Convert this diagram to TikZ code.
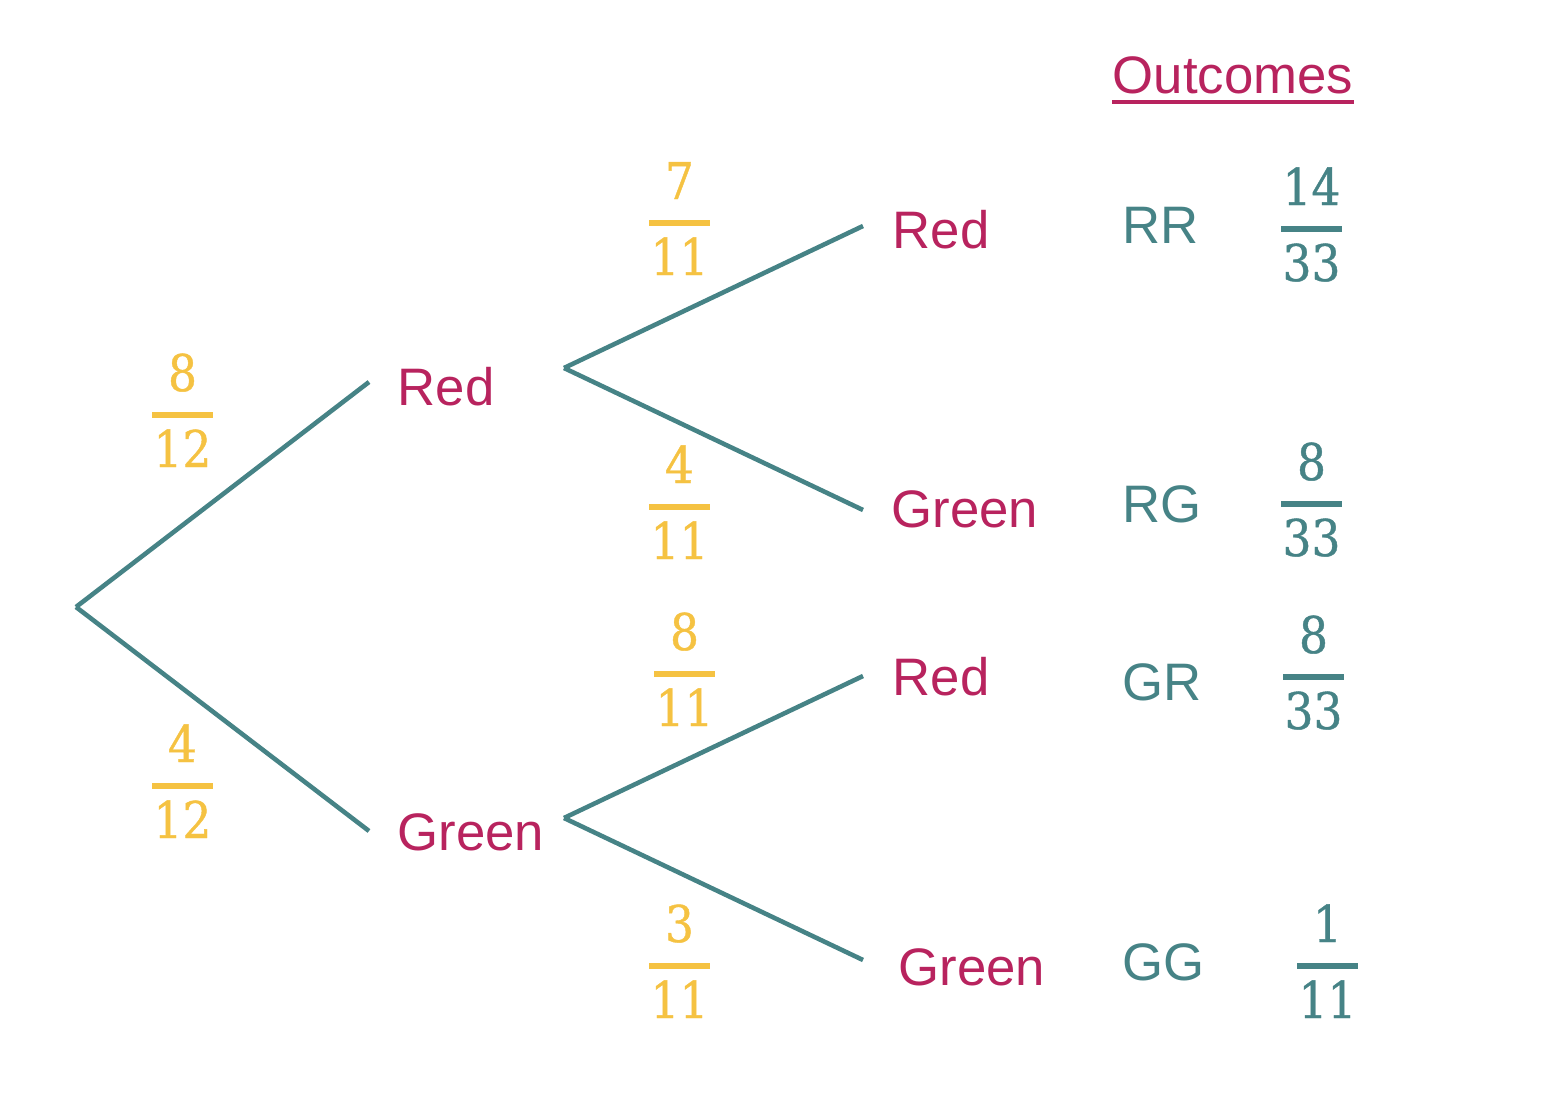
\documentclass[tikz,border=0pt]{standalone}
\usepackage{fontspec}
\setmainfont{Liberation Sans}
\newfontfamily\digitfont[FakeStretch=0.9,FakeBold=0.8]{DejaVu Serif}
\definecolor{teal1}{HTML}{468386}
\definecolor{mag1}{HTML}{B8235E}
\definecolor{yel1}{HTML}{F5C242}
\newcommand{\fracnode}[6]{%
  \node[fracdigit, text=#6, anchor=base] (#1n) at (#2,#3-24) {#4};
  \node[fracdigit, text=#6, anchor=base] (#1d) at (#2,#3+52) {#5};
  \draw[#6, line width=1.45pt] (#2-30.5,#3) -- (#2+30.5,#3);
}
\begin{document}
\begin{tikzpicture}[x=0.01cm,y=-0.01cm,
  lbl/.style={inner sep=0pt, anchor=base west, font=\fontsize{15pt}{18pt}\selectfont},
  choice/.style={lbl, text=mag1},
  outc/.style={lbl, text=teal1},
  fracdigit/.style={inner sep=0pt, font=\digitfont\fontsize{14.4pt}{17pt}\selectfont},
  branch/.style={draw=teal1, line width=1.3pt, line cap=butt}]
\useasboundingbox (0,0) rectangle (1542,1112);
% tree points
\coordinate (root) at (76,607);
\coordinate (e1) at (369,382);
\coordinate (e2) at (369,831);
\coordinate (f1) at (564,368);
\coordinate (f2) at (564,818);
\coordinate (e11) at (863,226);
\coordinate (e12) at (863,510);
\coordinate (e21) at (863,676);
\coordinate (e22) at (863,960);
\draw[branch] (root) -- (e1);
\draw[branch] (root) -- (e2);
\draw[branch] (f1) -- (e11);
\draw[branch] (f1) -- (e12);
\draw[branch] (f2) -- (e21);
\draw[branch] (f2) -- (e22);
% labels
\node[choice] (R1) at (397,405) {Red};
\node[choice] (G1) at (397,850) {Green};
\node[choice] (RR) at (892,248) {Red};
\node[choice] (RGl) at (891,527) {Green};
\node[choice] (GRl) at (892,695) {Red};
\node[choice] (GGl) at (898,985) {Green};
% outcomes
\node[lbl, text=mag1] (out) at (1112,93) {Outcomes};
\draw[mag1, line width=1.2pt] ([yshift=-9*0.01cm]out.base west) -- ([yshift=-9*0.01cm]out.base east);
\node[outc] (oRR) at (1122,243) {RR};
\node[outc] (oRG) at (1122,522) {RG};
\node[outc] (oGR) at (1122,700) {GR};
\node[outc] (oGG) at (1122,980) {GG};
% probabilities
\fracnode{p1}{182.5}{415}{8}{12}{yel1}
\fracnode{p2}{182.5}{786}{4}{12}{yel1}
\fracnode{p11}{679.5}{223}{7}{11}{yel1}
\fracnode{p12}{679.5}{507}{4}{11}{yel1}
\fracnode{p21}{684.5}{674}{8}{11}{yel1}
\fracnode{p22}{679.5}{966}{3}{11}{yel1}
\fracnode{q1}{1311.5}{229}{14}{33}{teal1}
\fracnode{q2}{1311.5}{504}{8}{33}{teal1}
\fracnode{q3}{1313.5}{677}{8}{33}{teal1}
\fracnode{q4}{1327.5}{966}{1}{11}{teal1}
\end{tikzpicture}
\end{document}
